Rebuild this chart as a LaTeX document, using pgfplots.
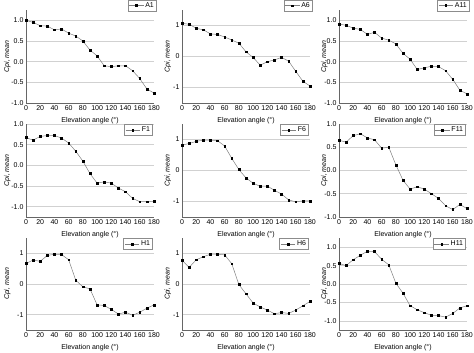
\documentclass[border=0pt]{standalone}
\usepackage{pgfplots}
\pgfplotsset{compat=1.18}
\usepackage{fontspec}
\setmainfont{Liberation Sans}
\newcommand{\sz}{\fontsize{7}{8}\selectfont}
\pgfplotsset{
  ser/.style={color=black!50, line width=0.5pt, mark=square*, mark size=0.9pt, mark options={draw=black, fill=black, solid}},
  panel/.style={
    scale only axis, width=128pt, height=93pt,
    xmin=0, xmax=180, xtick={0,20,...,180},
    axis x line*=bottom, axis y line*=left,
    axis line style={black!60},
    ymajorgrids, grid style={black!18, line width=0.5pt},
    major tick length=0pt,
    tick label style={font=\sz},
    /pgf/number format/assume math mode=true,
    xticklabel style={yshift=1pt},
    yticklabel style={xshift=1pt},
    xlabel={Elevation angle (°)},
    ylabel={\textit{Cpi, mean}},
    label style={font=\sz},
    xlabel style={at={(axis description cs:0.5,-0.19)}, anchor=center},
    legend style={font=\sz, draw=black!45, inner sep=1pt, nodes={inner sep=1.5pt}, legend cell align=left},
    legend image post style={xscale=0.85},
  },
  dec/.style={ytick={-1,-0.5,...,1}, yticklabel style={/pgf/number format/.cd, fixed, fixed zerofill, precision=1}},
  int/.style={ymin=-1.5, ymax=1.5, ytick={-1,0,1}},
  c1/.style={ylabel style={at={(axis description cs:-0.145,0.5)}, anchor=center}},
  c2/.style={ylabel style={at={(axis description cs:-0.11,0.5)}, anchor=center}},
  c3/.style={ylabel style={at={(axis description cs:-0.115,0.5)}, anchor=center}},
  r1/.style={legend style={at={(axis description cs:1.02,1.11)}, anchor=north east}},
  r2/.style={legend style={at={(axis description cs:0.99,1.0)}, anchor=north east}},
}
\begin{document}
\begin{tikzpicture}
\useasboundingbox (0,0) rectangle (474pt,353pt);
% Row 1
\begin{axis}[panel, dec, c1, r1, at={(26pt,250pt)}, anchor=south west, ymin=-1.0, ymax=1.25]
\addplot[ser] coordinates {(0,1.00)(10,0.95)(20,0.87)(30,0.86)(40,0.77)(50,0.79)(60,0.69)(70,0.62)(80,0.50)(90,0.28)(100,0.14)(110,-0.10)(120,-0.12)(130,-0.10)(140,-0.10)(150,-0.22)(160,-0.41)(170,-0.66)(180,-0.76)};
\addlegendentry{A1}
\end{axis}
\begin{axis}[panel, int, c2, r1, at={(182pt,250pt)}, anchor=south west]
\addplot[ser] coordinates {(0,1.07)(10,1.04)(20,0.91)(30,0.86)(40,0.73)(50,0.71)(60,0.63)(70,0.53)(80,0.43)(90,0.15)(100,-0.03)(110,-0.28)(120,-0.17)(130,-0.11)(140,-0.03)(150,-0.15)(160,-0.48)(170,-0.80)(180,-0.95)};
\addlegendentry{A6}
\end{axis}
\begin{axis}[panel, dec, c3, r1, at={(339pt,250pt)}, anchor=south west, ymin=-1.0, ymax=1.25]
\addplot[ser] coordinates {(0,0.91)(10,0.88)(20,0.81)(30,0.78)(40,0.66)(50,0.71)(60,0.57)(70,0.52)(80,0.43)(90,0.20)(100,0.06)(110,-0.19)(120,-0.15)(130,-0.11)(140,-0.12)(150,-0.22)(160,-0.43)(170,-0.69)(180,-0.78)};
\addlegendentry{A11}
\end{axis}
% Row 2
\begin{axis}[panel, dec, c1, r2, at={(26pt,136pt)}, anchor=south west, ymin=-1.25, ymax=1.0]
\addplot[ser] coordinates {(0,0.67)(10,0.61)(20,0.70)(30,0.72)(40,0.72)(50,0.66)(60,0.54)(70,0.34)(80,0.10)(90,-0.20)(100,-0.43)(110,-0.40)(120,-0.43)(130,-0.55)(140,-0.64)(150,-0.80)(160,-0.88)(170,-0.88)(180,-0.87)};
\addlegendentry{F1}
\end{axis}
\begin{axis}[panel, int, c2, r2, at={(182pt,136pt)}, anchor=south west]
\addplot[ser] coordinates {(0,0.82)(10,0.87)(20,0.94)(30,0.98)(40,0.98)(50,0.96)(60,0.79)(70,0.39)(80,0.03)(90,-0.24)(100,-0.41)(110,-0.51)(120,-0.50)(130,-0.64)(140,-0.76)(150,-0.95)(160,-1.01)(170,-0.98)(180,-0.98)};
\addlegendentry{F6}
\end{axis}
\begin{axis}[panel, dec, c3, r2, at={(339pt,136pt)}, anchor=south west, ymin=-1.0, ymax=1.0]
\addplot[ser] coordinates {(0,0.65)(10,0.61)(20,0.75)(30,0.79)(40,0.70)(50,0.66)(60,0.48)(70,0.50)(80,0.12)(90,-0.21)(100,-0.40)(110,-0.35)(120,-0.40)(130,-0.50)(140,-0.60)(150,-0.76)(160,-0.84)(170,-0.73)(180,-0.82)};
\addlegendentry{F11}
\end{axis}
% Row 3
\begin{axis}[panel, int, c1, r2, at={(26pt,23pt)}, anchor=south west, height=92pt]
\addplot[ser] coordinates {(0,0.67)(10,0.78)(20,0.74)(30,0.93)(40,0.97)(50,0.96)(60,0.79)(70,0.12)(80,-0.09)(90,-0.16)(100,-0.68)(110,-0.70)(120,-0.83)(130,-0.98)(140,-0.92)(150,-1.02)(160,-0.92)(170,-0.79)(180,-0.68)};
\addlegendentry{H1}
\end{axis}
\begin{axis}[panel, int, c2, r2, at={(182pt,23pt)}, anchor=south west, height=92pt]
\addplot[ser] coordinates {(0,0.78)(10,0.54)(20,0.79)(30,0.89)(40,0.97)(50,0.97)(60,0.95)(70,0.66)(80,-0.02)(90,-0.32)(100,-0.62)(110,-0.75)(120,-0.85)(130,-0.97)(140,-0.93)(150,-0.96)(160,-0.85)(170,-0.71)(180,-0.57)};
\addlegendentry{H6}
\end{axis}
\begin{axis}[panel, dec, c3, r2, at={(339pt,23pt)}, anchor=south west, height=92pt, ymin=-1.25, ymax=1.25]
\addplot[ser] coordinates {(0,0.56)(10,0.50)(20,0.66)(30,0.78)(40,0.89)(50,0.88)(60,0.67)(70,0.52)(80,0.02)(90,-0.25)(100,-0.59)(110,-0.70)(120,-0.78)(130,-0.85)(140,-0.86)(150,-0.90)(160,-0.80)(170,-0.65)(180,-0.59)};
\addlegendentry{H11}
\end{axis}
\end{tikzpicture}
\end{document}
